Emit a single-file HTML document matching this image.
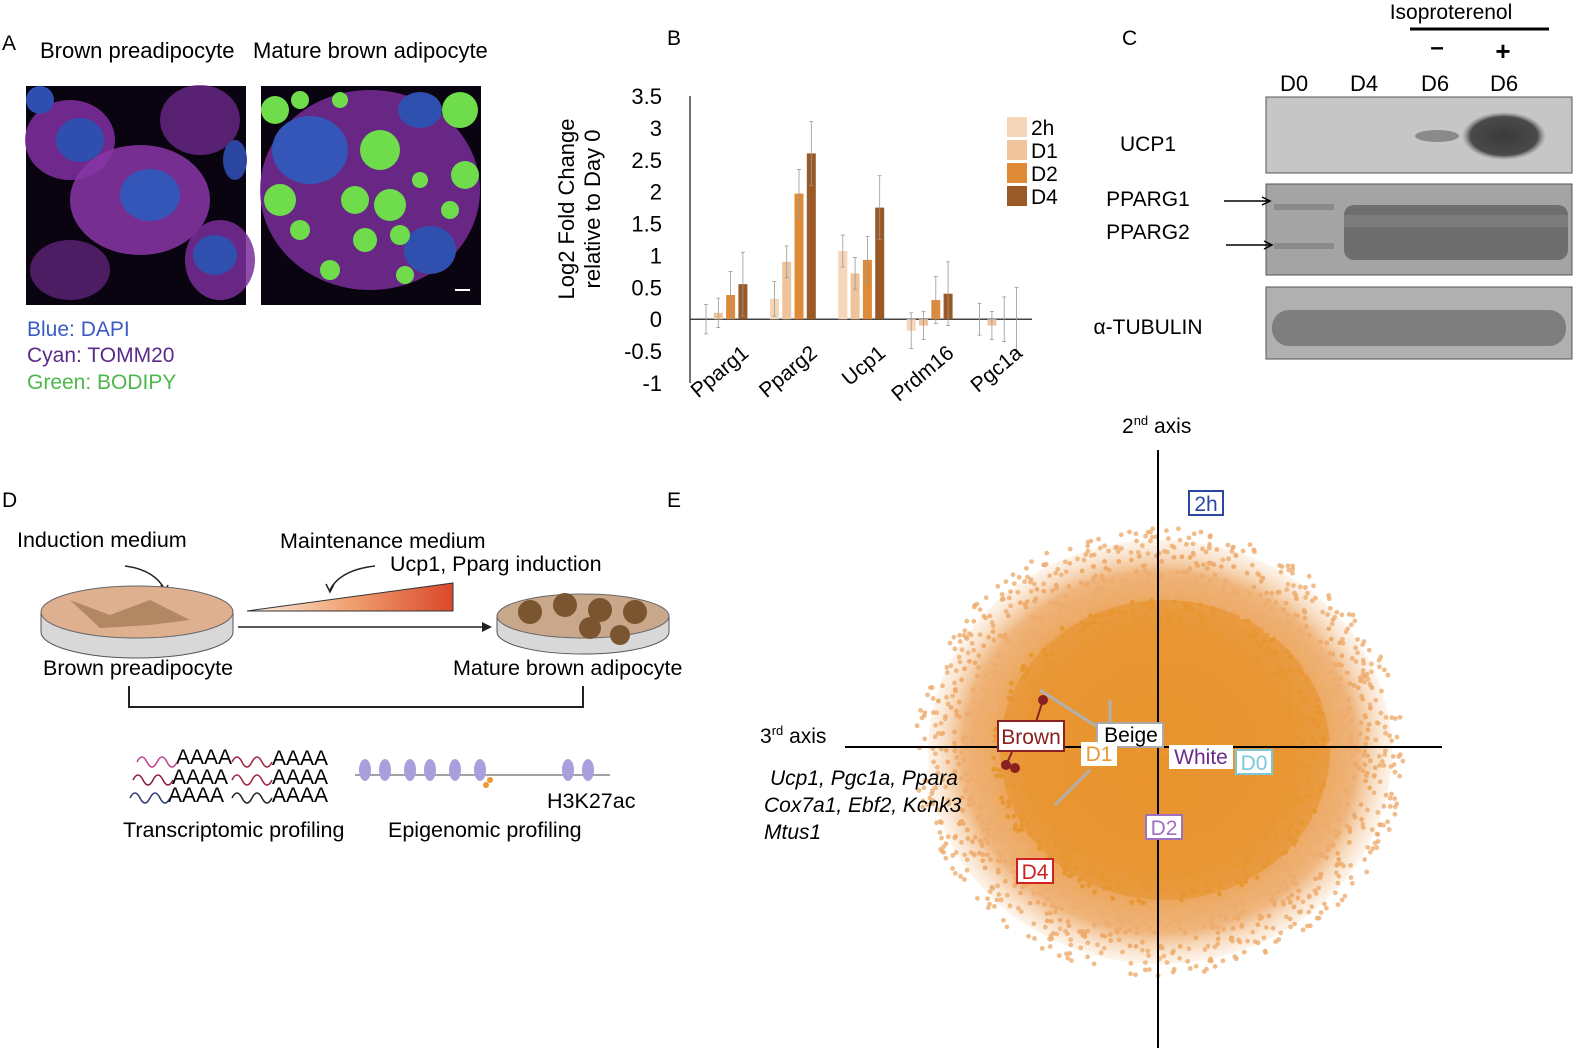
<!DOCTYPE html>
<html><head><meta charset="utf-8"><style>
body{margin:0;background:#fff;}
svg{display:block;font-family:"Liberation Sans",Arial,sans-serif;}
</style></head><body>
<svg id="fig" width="1575" height="1054" viewBox="0 0 1575 1054" xmlns="http://www.w3.org/2000/svg">
<defs>
<linearGradient id="ramp" x1="0" x2="1" y1="0" y2="0"><stop offset="0" stop-color="#fbeee2"/><stop offset="0.5" stop-color="#f0a070"/><stop offset="1" stop-color="#d9482a"/></linearGradient>
<radialGradient id="cloud" cx="0.5" cy="0.5" r="0.5"><stop offset="0" stop-color="#e8922c"/><stop offset="0.55" stop-color="#ea9a40"/><stop offset="0.85" stop-color="#efb57c"/><stop offset="1" stop-color="#f8dcc0" stop-opacity="0.3"/></radialGradient>
<radialGradient id="ucp" cx="0.5" cy="0.5" r="0.5"><stop offset="0" stop-color="#3a3a3a"/><stop offset="0.8" stop-color="#4a4a4a"/><stop offset="1" stop-color="#777" stop-opacity="0"/></radialGradient>
</defs>

<!-- Panel A -->
<g>
<text x="2" y="50" font-size="21">A</text>
<text x="40" y="58" font-size="22">Brown preadipocyte</text>
<text x="253" y="58" font-size="22">Mature brown adipocyte</text>
<g>
<rect x="26" y="86" width="220" height="219" fill="#0a0410"/>
<ellipse cx="70" cy="140" rx="45" ry="40" fill="#7a2e9a" opacity="0.9"/>
<ellipse cx="140" cy="200" rx="70" ry="55" fill="#8a36a8" opacity="0.85"/>
<ellipse cx="200" cy="120" rx="40" ry="35" fill="#6a2888" opacity="0.8"/>
<ellipse cx="220" cy="260" rx="35" ry="40" fill="#7a2e9a" opacity="0.85"/>
<ellipse cx="70" cy="270" rx="40" ry="30" fill="#6a2888" opacity="0.7"/>
<ellipse cx="80" cy="140" rx="24" ry="22" fill="#2f4fb0"/>
<ellipse cx="150" cy="195" rx="30" ry="26" fill="#3456b8"/>
<ellipse cx="215" cy="255" rx="22" ry="20" fill="#3050b0"/>
<ellipse cx="40" cy="100" rx="14" ry="14" fill="#2f4fb0"/>
<ellipse cx="235" cy="160" rx="12" ry="20" fill="#2a46a0"/>
</g>
<g>
<rect x="261" y="86" width="220" height="219" fill="#0a0410"/>
<ellipse cx="370" cy="190" rx="110" ry="100" fill="#7a2e9a" opacity="0.85"/>
<ellipse cx="310" cy="150" rx="38" ry="34" fill="#3456b8"/>
<ellipse cx="430" cy="250" rx="26" ry="24" fill="#3050b0"/>
<ellipse cx="420" cy="110" rx="22" ry="18" fill="#3050b0"/>
<circle cx="275" cy="110" r="14" fill="#6fdc4c"/><circle cx="300" cy="100" r="9" fill="#6fdc4c"/>
<circle cx="460" cy="110" r="18" fill="#6fdc4c"/><circle cx="380" cy="150" r="20" fill="#6fdc4c"/>
<circle cx="355" cy="200" r="14" fill="#6fdc4c"/><circle cx="390" cy="205" r="16" fill="#6fdc4c"/>
<circle cx="365" cy="240" r="12" fill="#6fdc4c"/><circle cx="400" cy="235" r="10" fill="#6fdc4c"/>
<circle cx="280" cy="200" r="16" fill="#6fdc4c"/><circle cx="300" cy="230" r="10" fill="#6fdc4c"/>
<circle cx="465" cy="175" r="14" fill="#6fdc4c"/><circle cx="450" cy="210" r="9" fill="#6fdc4c"/>
<circle cx="330" cy="270" r="10" fill="#6fdc4c"/><circle cx="420" cy="180" r="8" fill="#6fdc4c"/>
<circle cx="340" cy="100" r="8" fill="#6fdc4c"/><circle cx="405" cy="275" r="9" fill="#6fdc4c"/>
<line x1="455" y1="290" x2="470" y2="290" stroke="#fff" stroke-width="2"/>
</g>
<text x="27" y="336" font-size="21" fill="#3a5bc4">Blue: DAPI</text>
<text x="27" y="362" font-size="21" fill="#5a2a8a">Cyan: TOMM20</text>
<text x="27" y="389" font-size="21" fill="#4cb84c">Green: BODIPY</text>
</g>

<!-- Panel B -->
<g id="chartB">
<text x="667" y="45" font-size="21">B</text>
<text transform="translate(574,209) rotate(-90)" font-size="22" text-anchor="middle">Log2 Fold Change</text>
<text transform="translate(600,209) rotate(-90)" font-size="22" text-anchor="middle">relative to Day 0</text>
</g>

<!-- Panel C -->
<g>
<text x="1122" y="45" font-size="21">C</text>
<text x="1451" y="19" font-size="21" text-anchor="middle">Isoproterenol</text>
<line x1="1410" y1="29" x2="1549" y2="29" stroke="#000" stroke-width="3"/>
<text x="1437" y="55" font-size="24" text-anchor="middle" font-weight="bold">–</text>
<text x="1503" y="60" font-size="26" text-anchor="middle" font-weight="bold">+</text>
<text x="1294" y="91" font-size="22" text-anchor="middle">D0</text>
<text x="1364" y="91" font-size="22" text-anchor="middle">D4</text>
<text x="1435" y="91" font-size="22" text-anchor="middle">D6</text>
<text x="1504" y="91" font-size="22" text-anchor="middle">D6</text>
<g>
<rect x="1266" y="97" width="306" height="76" fill="#c6c6c6" stroke="#555"/>
<ellipse cx="1437" cy="136" rx="22" ry="6" fill="#8a8a8a"/>
<ellipse cx="1504" cy="136" rx="42" ry="24" fill="url(#ucp)"/>
</g>
<text x="1148" y="151" font-size="21" text-anchor="middle">UCP1</text>
<g>
<rect x="1266" y="184" width="306" height="91" fill="#a4a4a4" stroke="#555"/>
<rect x="1274" y="204" width="60" height="6" fill="#8a8a8a"/>
<rect x="1274" y="243" width="60" height="6" fill="#8a8a8a"/>
<rect x="1344" y="205" width="224" height="55" fill="#6e6e6e" rx="10"/>
<rect x="1344" y="215" width="224" height="12" fill="#7c7c7c"/>
</g>
<text x="1148" y="206" font-size="21" text-anchor="middle">PPARG1</text>
<text x="1148" y="239" font-size="21" text-anchor="middle">PPARG2</text>
<line x1="1224" y1="201" x2="1268" y2="201" stroke="#000" stroke-width="1.5"/><path d="M1262,197 L1270,201 L1262,205" fill="none" stroke="#000" stroke-width="1.5"/>
<line x1="1226" y1="245" x2="1270" y2="245" stroke="#000" stroke-width="1.5"/><path d="M1264,241 L1272,245 L1264,249" fill="none" stroke="#000" stroke-width="1.5"/>
<g>
<rect x="1266" y="287" width="306" height="72" fill="#b0b0b0" stroke="#555"/>
<rect x="1272" y="310" width="294" height="36" rx="17" fill="#7e7e7e"/>
</g>
<text x="1148" y="334" font-size="21" text-anchor="middle">α-TUBULIN</text>
</g>

<!-- Panel D -->
<g>
<text x="2" y="507" font-size="21">D</text>
<text x="17" y="547" font-size="21.5">Induction medium</text>
<text x="280" y="548" font-size="21.5">Maintenance medium</text>
<text x="390" y="571" font-size="21.5">Ucp1, Pparg induction</text>
<path d="M125,566 Q155,570 165,590" fill="none" stroke="#222" stroke-width="1.5"/><path d="M161,585 L165,592 L168,585" fill="none" stroke="#222" stroke-width="1.5"/>
<path d="M375,566 Q340,570 330,590" fill="none" stroke="#222" stroke-width="1.5"/><path d="M326,584 L330,592 L334,584" fill="none" stroke="#222" stroke-width="1.5"/>
<polygon points="247,611 453,583 453,611" fill="url(#ramp)" stroke="#333" stroke-width="1"/>
<line x1="238" y1="627" x2="490" y2="627" stroke="#222" stroke-width="1.5"/><path d="M482,622 L492,627 L482,632 Z" fill="#222"/>
<g>
<path d="M41,612 L41,632 A96,26 0 0 0 233,632 L233,612" fill="#d8d8d8" stroke="#555"/>
<ellipse cx="137" cy="612" rx="96" ry="26" fill="#dfb090" stroke="#666"/>
<path d="M70,600 L110,615 L150,600 L190,620 L150,625 L100,628 Z" fill="#9c7850" opacity="0.7"/>
</g>
<g>
<path d="M497,616 L497,632 A86,22 0 0 0 669,632 L669,616" fill="#d8d8d8" stroke="#555"/>
<ellipse cx="583" cy="616" rx="86" ry="22" fill="#c9a78a" stroke="#666"/>
<circle cx="530" cy="612" r="12" fill="#7a5530"/><circle cx="565" cy="605" r="12" fill="#7a5530"/><circle cx="600" cy="610" r="12" fill="#7a5530"/><circle cx="635" cy="612" r="12" fill="#7a5530"/><circle cx="590" cy="628" r="11" fill="#7a5530"/><circle cx="620" cy="635" r="10" fill="#7a5530"/>
</g>
<text x="43" y="675" font-size="21.5">Brown preadipocyte</text>
<text x="453" y="675" font-size="21.5">Mature brown adipocyte</text>
<path d="M129,686 L129,707 L583,707 L583,686" fill="none" stroke="#222" stroke-width="2"/>
<g font-size="21">
<text x="176" y="764">AAAA</text><text x="272" y="765">AAAA</text>
<text x="172" y="784">AAAA</text><text x="272" y="784">AAAA</text>
<text x="168" y="802">AAAA</text><text x="272" y="802">AAAA</text>
<path d="M137,762 q5,-10 10,0 t10,0 t10,0 t10,0" fill="none" stroke="#c0408a" stroke-width="1.5"/>
<path d="M232,762 q5,-10 10,0 t10,0 t10,0 t10,0" fill="none" stroke="#a02040" stroke-width="1.5"/>
<path d="M133,780 q5,-10 10,0 t10,0 t10,0 t10,0" fill="none" stroke="#901840" stroke-width="1.5"/>
<path d="M232,780 q5,-10 10,0 t10,0 t10,0 t10,0" fill="none" stroke="#a02040" stroke-width="1.5"/>
<path d="M130,798 q5,-10 10,0 t10,0 t10,0 t10,0" fill="none" stroke="#2a3a7a" stroke-width="1.5"/>
<path d="M232,798 q5,-10 10,0 t10,0 t10,0 t10,0" fill="none" stroke="#222" stroke-width="1.5"/>
</g>
<g>
<line x1="355" y1="775" x2="610" y2="775" stroke="#444"/>
<ellipse cx="365" cy="770" rx="6" ry="11" fill="#a7a0dd"/><ellipse cx="385" cy="770" rx="6" ry="11" fill="#a7a0dd"/>
<ellipse cx="410" cy="770" rx="6" ry="11" fill="#a7a0dd"/><ellipse cx="430" cy="770" rx="6" ry="11" fill="#a7a0dd"/>
<ellipse cx="455" cy="770" rx="6" ry="11" fill="#a7a0dd"/><ellipse cx="480" cy="770" rx="6" ry="11" fill="#a7a0dd"/>
<ellipse cx="568" cy="770" rx="6" ry="11" fill="#a7a0dd"/><ellipse cx="588" cy="770" rx="6" ry="11" fill="#a7a0dd"/>
<circle cx="486" cy="785" r="3" fill="#e89a30"/><circle cx="490" cy="780" r="3" fill="#e89a30"/>
</g>
<text x="547" y="808" font-size="21.5">H3K27ac</text>
<text x="123" y="837" font-size="21.5">Transcriptomic profiling</text>
<text x="388" y="837" font-size="21.5">Epigenomic profiling</text>
</g>

<!-- Panel E -->
<g>
<text x="667" y="507" font-size="21">E</text>
<g id="cloudg">
<ellipse cx="1160" cy="752" rx="232" ry="212" fill="url(#cloud)"/>
<ellipse cx="1165" cy="750" rx="165" ry="150" fill="#e8922c" opacity="0.6"/>
</g>
<line x1="845" y1="747" x2="1442" y2="747" stroke="#000" stroke-width="2"/>
<line x1="1158" y1="450" x2="1158" y2="1048" stroke="#000" stroke-width="2"/>
<text x="1122" y="433" font-size="21">2<tspan font-size="13" dy="-8">nd</tspan><tspan dy="8"> axis</tspan></text>
<text x="760" y="743" font-size="21">3<tspan font-size="13" dy="-8">rd</tspan><tspan dy="8"> axis</tspan></text>
<g font-size="21" font-style="italic">
<text x="770" y="785">Ucp1, Pgc1a, Ppara</text>
<text x="764" y="812">Cox7a1, Ebf2, Kcnk3</text>
<text x="764" y="839">Mtus1</text>
</g>
<g stroke="#b0b0b0" stroke-width="3">
<line x1="1040" y1="690" x2="1110" y2="735"/><line x1="1110" y1="700" x2="1110" y2="735"/><line x1="1090" y1="770" x2="1055" y2="805"/>
</g>
<g stroke="#8a2020" stroke-width="2" fill="#8a2020">
<line x1="1035" y1="725" x2="1043" y2="700"/><circle cx="1043" cy="700" r="4"/>
<line x1="1012" y1="752" x2="1006" y2="765"/><circle cx="1006" cy="765" r="4"/><circle cx="1015" cy="768" r="4"/>
</g>
<g><rect x="1189" y="491" width="34" height="24" fill="#fff" stroke="#2a48a0" stroke-width="2"/><text x="1206" y="511" font-size="21" fill="#2a48a0" text-anchor="middle">2h</text></g>
<g><rect x="998" y="721" width="66" height="30" fill="#fff" stroke="#8a2020" stroke-width="2"/><text x="1031" y="744" font-size="21" fill="#8a2020" text-anchor="middle">Brown</text></g>
<g><rect x="1097" y="723" width="66" height="24" fill="#fff" stroke="#aaa" stroke-width="2"/><text x="1131" y="742" font-size="21" text-anchor="middle">Beige</text></g>
<g><rect x="1081" y="742" width="36" height="24" fill="#fff"/><text x="1099" y="761" font-size="21" fill="#e89a30" text-anchor="middle">D1</text></g>
<g><rect x="1169" y="745" width="64" height="24" fill="#fff"/><text x="1201" y="764" font-size="21" fill="#6a2a8a" text-anchor="middle">White</text></g>
<g><rect x="1236" y="750" width="36" height="24" fill="#fff" stroke="#7ac8d8" stroke-width="2"/><text x="1254" y="770" font-size="21" fill="#7ac8d8" text-anchor="middle">D0</text></g>
<g><rect x="1146" y="815" width="36" height="24" fill="#fff" stroke="#a070c0" stroke-width="2"/><text x="1164" y="835" font-size="21" fill="#a070c0" text-anchor="middle">D2</text></g>
<g><rect x="1017" y="859" width="36" height="24" fill="#fff" stroke="#d02020" stroke-width="2"/><text x="1035" y="879" font-size="21" fill="#d02020" text-anchor="middle">D4</text></g>
</g>
</svg>
<script>
const categories = ["Pparg1","Pparg2","Ucp1","Prdm16","Pgc1a"];
const seriesNames = ["2h","D1","D2","D4"];
const v2h = [0, 0.32, 1.07, -0.18, 0];
const vD1 = [0.1, 0.9, 0.72, -0.1, -0.1];
const vD2 = [0.38, 1.97, 0.93, 0.3, 0];
const vD4 = [0.55, 2.6, 1.75, 0.4, 0];
const e2h = [0.23, 0.27, 0.25, 0.28, 0.25];
const eD1 = [0.23, 0.25, 0.25, 0.22, 0.22];
const eD2 = [0.37, 0.38, 0.37, 0.37, 0.35];
const eD4 = [0.5, 0.5, 0.5, 0.5, 0.5];
const yTicks = [-1,-0.5,0,0.5,1,1.5,2,2.5,3,3.5];
const colors = ["#f5d6b8","#efc39c","#de8a36","#9a5a28"];
const NS="http://www.w3.org/2000/svg";
const g=document.getElementById("chartB");
const x0=690, x1=1032, yTop=96, yBot=383;
const y=v=>yBot-(v+1)/4.5*(yBot-yTop);
const gw=(x1-x0)/5;
const xc=(i,s)=>x0+gw*i+16+s*12.3;
function mk(t,a){const e=document.createElementNS(NS,t);for(const k in a)e.setAttribute(k,a[k]);g.appendChild(e);return e;}
const ax=mk("line",{x1:x0,y1:yTop,x2:x0,y2:yBot,stroke:"#444","stroke-width":1.5});


const zx=mk("line",{x1:x0,y1:y(0),x2:x1,y2:y(0),stroke:"#444","stroke-width":1.5});


yTicks.forEach(t=>{const tx=mk("text",{x:662,y:y(t)+8,"font-size":22,"text-anchor":"end"});tx.textContent=String(t);

});
const vals=[v2h,vD1,vD2,vD4], errs=[e2h,eD1,eD2,eD4];
categories.forEach((c,i)=>{
 vals.forEach((arr,s)=>{
  const v=arr[i], cx=xc(i,s);
  const r=mk("rect",{x:cx-4.5,y:Math.min(y(v),y(0)),width:9,height:Math.abs(y(v)-y(0)),fill:colors[s]});
  
  
  const e=errs[s][i];
  const l=mk("line",{x1:cx,x2:cx,y1:y(v+e),y2:y(v-e),stroke:"#999","stroke-width":0.8});
  
  
  mk("line",{x1:cx-2,x2:cx+2,y1:y(v+e),y2:y(v+e),stroke:"#999","stroke-width":0.8});
  mk("line",{x1:cx-2,x2:cx+2,y1:y(v-e),y2:y(v-e),stroke:"#999","stroke-width":0.8});
 });
 const lx=x0+gw*i+60, ly=y(-0.5)+4;
 const t=mk("text",{x:lx,y:ly,"font-size":21,"text-anchor":"end",transform:`rotate(-40 ${lx} ${ly})`});
 t.textContent=c;
 
 
});
seriesNames.forEach((n,s)=>{
 const r=mk("rect",{x:1007,y:117+s*23,width:20,height:20,fill:colors[s]});
 
 
 const t=mk("text",{x:1031,y:135+s*23,"font-size":21});t.textContent=n;
 
 
});
// decorative dot texture for the point cloud (not data)
const cg=document.getElementById("cloudg");
function h(n){const s=Math.sin(n*127.1)*43758.5453;return s-Math.floor(s);}
for(let k=0;k<2200;k++){
 const r=Math.sqrt(h(k+0.5))*1.02, a=h(k+7.3)*6.2832;
 const d=document.createElementNS(NS,"circle");
 d.setAttribute("cx",1160+Math.cos(a)*r*240);
 d.setAttribute("cy",752+Math.sin(a)*r*220);
 d.setAttribute("r",2.4);
 d.setAttribute("fill",r>0.7?"#eead6e":"#e8962f");
 d.setAttribute("opacity",r>0.9?0.8:1);
 cg.appendChild(d);
}
</script>
</body></html>
